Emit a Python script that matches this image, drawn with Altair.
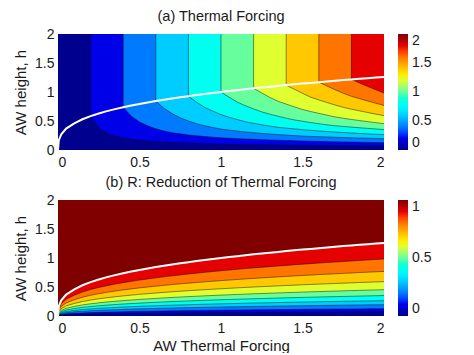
import altair as alt
import pandas as pd
import numpy as np

# ---- values ----
x_grid = [0, 0.005, 0.02, 0.05, 0.1, 0.15, 0.2, 0.25, 0.3, 0.35, 0.4, 0.45, 0.5,
          0.55, 0.6, 0.65, 0.7, 0.75, 0.8, 0.85, 0.9, 0.95, 1.0, 1.05, 1.1, 1.15,
          1.2, 1.25, 1.3, 1.35, 1.4, 1.45, 1.5, 1.55, 1.6, 1.65, 1.7, 1.75, 1.8,
          1.85, 1.9, 1.95, 2.0]
# white curve: critical AW height
h_crit = [0.0, 0.17, 0.27, 0.37, 0.46, 0.53, 0.585, 0.63, 0.67, 0.705, 0.737, 0.766,
          0.794, 0.819, 0.843, 0.866, 0.888, 0.909, 0.928, 0.947, 0.965, 0.983, 1.0,
          1.016, 1.032, 1.048, 1.063, 1.077, 1.091, 1.105, 1.119, 1.132, 1.145, 1.157,
          1.17, 1.182, 1.193, 1.205, 1.216, 1.228, 1.239, 1.249, 1.26]
tf_levels = [0, 0.2, 0.4, 0.6, 0.8, 1.0, 1.2, 1.4, 1.6, 1.8]
r_levels = [0, 0.1, 0.2, 0.3, 0.4, 0.5, 0.6, 0.7, 0.8, 0.9, 1.0]
# fraction of the critical height where R reaches each level
r_height_frac = [0, 0.055, 0.10, 0.155, 0.21, 0.28, 0.36, 0.47, 0.61, 0.78, 1.0]
tf_ticks = [0, 0.5, 1, 1.5, 2]
r_ticks = [0, 0.5, 1]

FONT = "Liberation Sans"
TXT = "#1a1a1a"
W, H = 326, 116

jet_t = [0, 0.125, 0.375, 0.625, 0.875, 1.0]
jet_c = ["#00008f", "#0000ff", "#00ffff", "#ffff00", "#ff0000", "#800000"]


def frac(r):
    return float(np.interp(r, r_levels, r_height_frac))


xs = np.array(x_grid)
hc = np.array(h_crit)

# ---- panel (a) bands and contour lines ----
a_bands, a_lines = [], []
for k, v in enumerate(tf_levels):
    if k == 0:
        a_bands.append(pd.DataFrame({"x": [0, 2], "y": [0, 0], "y2": [2, 2], "level": [v, v]}))
        continue
    rows = []
    for x, h in zip(xs, hc):
        if x >= v - 1e-9:
            rows.append((x, h * frac(v / x)))
    df = pd.DataFrame(rows, columns=["x", "y"])
    df["y2"] = 2.0
    df["level"] = v
    a_bands.append(df)
    ln = pd.concat([pd.DataFrame({"x": [v], "y": [2.0]}), df[["x", "y"]]], ignore_index=True)
    ln["i"] = range(len(ln))
    ln["k"] = k
    a_lines.append(ln)
a_lines = pd.concat(a_lines, ignore_index=True)

# ---- panel (b) bands and contour lines ----
b_bands, b_lines = [], []
for k, r in enumerate(r_levels):
    df = pd.DataFrame({"x": xs, "y": hc * frac(r), "y2": 2.0, "level": r})
    b_bands.append(df)
    if 0 < k < len(r_levels) - 1:
        ln = df[["x", "y"]].copy()
        ln["k"] = k
        b_lines.append(ln)
b_lines = pd.concat(b_lines, ignore_index=True)
curve = pd.DataFrame({"x": xs, "y": hc})


def panel(bands, lines, vmax, ticks, title, xtitle, order_lines):
    xsc = alt.Scale(domain=[0, 2], nice=False, zero=False)
    ysc = alt.Scale(domain=[0, 2], nice=False, zero=False)
    csc = alt.Scale(domain=[t * vmax for t in jet_t], range=jet_c, nice=False, zero=False)
    xax = alt.Axis(values=tf_ticks, title=xtitle, labelExpr="'' + datum.value",
                   labelPadding=5, titlePadding=3, labelOverlap=False)
    yax = alt.Axis(values=tf_ticks, title="AW height, h", labelExpr="'' + datum.value",
                   labelPadding=4, titlePadding=6, labelOverlap=False)
    X = alt.X("x:Q", scale=xsc, axis=xax)
    Y = alt.Y("y:Q", scale=ysc, axis=yax)
    legend = alt.Legend(title=None, values=ticks, labelExpr="'' + datum.value",
                        gradientLength=H, gradientThickness=10, labelFontSize=14,
                        labelFont=FONT, labelColor=TXT, offset=12, padding=0,
                        labelOverlap=False, labelBaseline="middle",
                        direction="vertical", orient="right", gradientStrokeWidth=0,
                        labelOffset=4)
    layers = []
    for df in bands:
        layers.append(
            alt.Chart(df).mark_area(interpolate="linear").encode(
                x=X, y=Y, y2="y2:Q",
                color=alt.Color("level:Q", scale=csc, legend=legend),
            )
        )
    enc = dict(x=X, y=Y, detail="k:N")
    if order_lines:
        enc["order"] = "i:Q"
    layers.append(
        alt.Chart(lines).mark_line(color="#000000", strokeWidth=0.6, opacity=0.75).encode(**enc)
    )
    layers.append(
        alt.Chart(curve).mark_line(color="#ffffff", strokeWidth=2).encode(x=X, y=Y)
    )
    return alt.layer(*layers).properties(
        width=W, height=H,
        title=alt.TitleParams(title, fontSize=14.5, font=FONT, fontWeight="normal",
                              color=TXT, offset=3, anchor="middle"),
    )


pa = panel(a_bands, a_lines, 2.0, tf_ticks, "(a) Thermal Forcing", None, True)
pb = panel(b_bands, b_lines, 1.0, r_ticks, "(b) R: Reduction of Thermal Forcing",
           "AW Thermal Forcing", False)

chart = alt.vconcat(pa, pb, spacing=5).resolve_scale(color="independent").properties(
    padding={"left": 13, "top": 8, "right": 0, "bottom": 0},
    background="white",
).configure_view(stroke=None).configure_axis(
    labelFont=FONT, labelFontSize=14, labelColor=TXT, titleFont=FONT, titleFontSize=15,
    titleColor=TXT, titleFontWeight="normal", domain=False, ticks=False, grid=False,
    labelOverlap=False,
)

chart.save("out.html", embed_options={"renderer": "svg", "actions": False})
